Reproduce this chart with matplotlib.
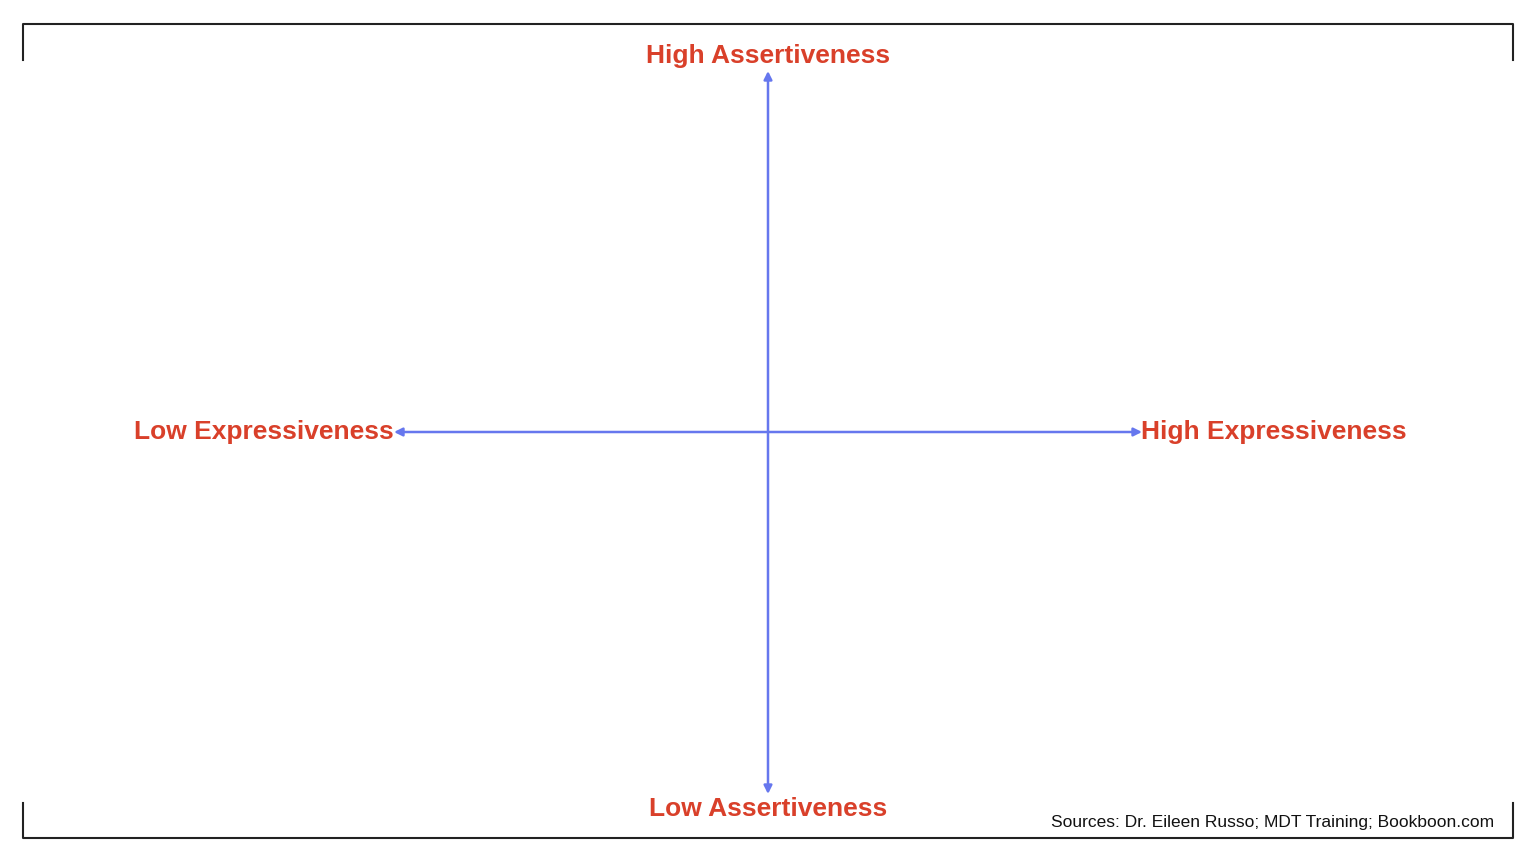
import matplotlib.pyplot as plt

axis_labels = ["High Assertiveness", "Low Assertiveness", "Low Expressiveness", "High Expressiveness"]
source_text = "Sources: Dr. Eileen Russo; MDT Training; Bookboon.com"

fig = plt.figure(figsize=(15.36, 8.64), dpi=100)
ax = fig.add_axes([0, 0, 1, 1])
ax.set_xlim(0, 1536); ax.set_ylim(864, 0); ax.axis('off')

# frame brackets
k = dict(color='#222222', lw=1.5)
ax.plot([23, 23, 1513, 1513], [60, 24, 24, 60], **k)
ax.plot([23, 23, 1513, 1513], [803, 838, 838, 803], **k)

acol = '#6677ee'
ap = dict(arrowstyle='<|-|>', color=acol, lw=1.8, mutation_scale=12, shrinkA=0, shrinkB=0)
ax.annotate('', xy=(768, 71), xytext=(768, 794), arrowprops=ap)
ax.annotate('', xy=(394, 432), xytext=(1142, 432), arrowprops=ap)

red = '#d9402a'
tk = dict(color=red, fontsize=19, fontweight='bold', family=['Liberation Sans', 'DejaVu Sans'])
ax.text(768, 56, axis_labels[0], ha='center', va='center', **tk)
ax.text(768, 809, axis_labels[1], ha='center', va='center', **tk)
ax.text(394, 432, axis_labels[2], ha='right', va='center', **tk)
ax.text(1141, 432, axis_labels[3], ha='left', va='center', **tk)
ax.text(1494, 822, source_text, ha='right', va='center', fontsize=12.5, color='#111111',
        family=['Liberation Sans', 'DejaVu Sans'])

fig.savefig('out.png', dpi=100, facecolor='white')
